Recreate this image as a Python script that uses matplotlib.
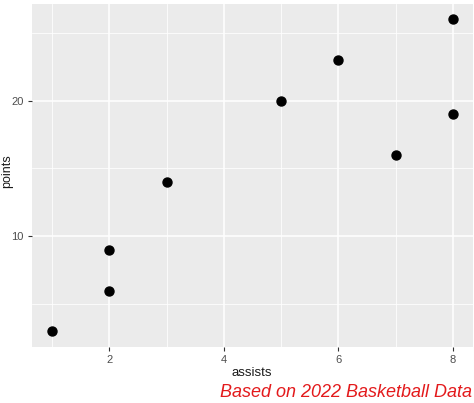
import matplotlib
matplotlib.use("Agg")
import matplotlib.pyplot as plt

plt.rcParams["font.family"] = ["Liberation Sans", "DejaVu Sans"]

assists = [1, 2, 2, 3, 5, 6, 7, 8, 8]
points = [3, 6, 9, 14, 20, 23, 16, 19, 26]
x_ticks = [2, 4, 6, 8]
y_ticks = [10, 20]

W, H = 474, 403
fig = plt.figure(figsize=(W / 100, H / 100), dpi=100)
ax = fig.add_axes([32 / W, 1 - 347 / H, (473 - 32) / W, (347 - 3.5) / H])
ax.set_facecolor("#EBEBEB")
for s in ax.spines.values():
    s.set_visible(False)

xr = max(assists) - min(assists)
yr = max(points) - min(points)
ax.set_xlim(min(assists) - 0.05 * xr, max(assists) + 0.05 * xr)
ax.set_ylim(min(points) - 0.05 * yr, max(points) + 0.05 * yr)

ax.set_xticks(x_ticks)
ax.set_yticks(y_ticks)
ax.set_xticks([1, 3, 5, 7], minor=True)
ax.set_yticks([5, 15, 25], minor=True)
ax.grid(True, which="major", color="white", linewidth=1.1)
ax.grid(True, which="minor", color="white", linewidth=0.55)
ax.set_axisbelow(True)
ax.tick_params(which="major", length=3, color="#333333", labelsize=8, labelcolor="#4D4D4D", pad=3)
ax.tick_params(which="minor", length=0)

ax.scatter(assists, points, s=42, color="black", zorder=3)

fig.text(252 / W, 1 - 372.5 / H, "assists", fontsize=9.5, color="#1A1A1A",
         ha="center", va="center")
fig.text(7 / W, 1 - 171 / H, "points", fontsize=9, color="#1A1A1A",
         rotation=90, ha="center", va="center")

fig.text(472 / W, 1 - 392.5 / H, "Based on 2022 Basketball Data", color="#E31A1C",
         fontsize=13, style="italic", ha="right", va="center")

fig.savefig("out.png", dpi=100)
